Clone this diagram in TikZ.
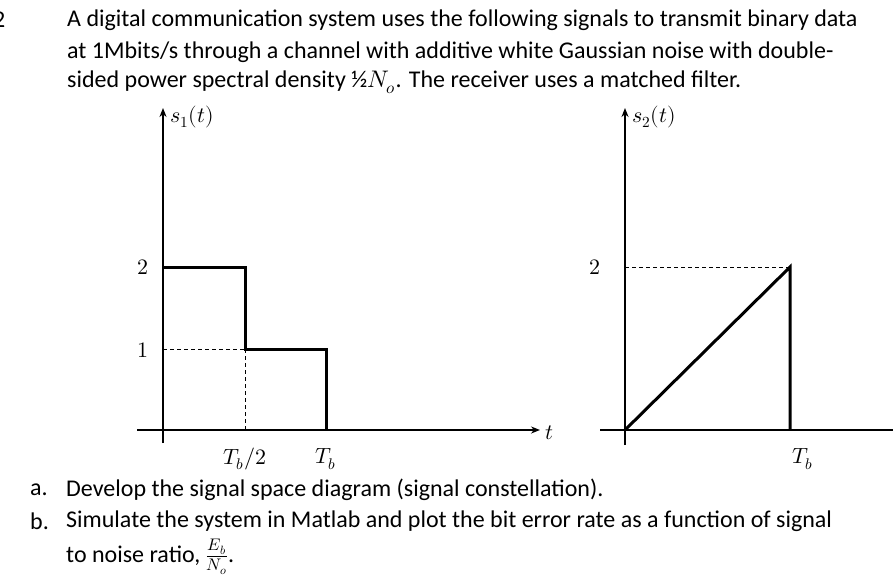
\documentclass[tikz,border=0pt]{standalone}
\usepackage{fontspec}
\setmainfont{Carlito}
\usepackage{unicode-math}
\setmathfont{Latin Modern Math}
\usetikzlibrary{arrows.meta}
\begin{document}
\begin{tikzpicture}[x=1pt,y=-1pt,
  txt/.style={anchor=west,inner sep=0pt,font=\fontsize{24}{28}\selectfont},
  lbl/.style={inner sep=0pt,font=\fontsize{22}{24}\selectfont},
  axis/.style={line width=1.6pt},
  sig/.style={line width=3pt},
  guide/.style={dashed,line width=0.8pt,dash pattern=on 4pt off 3pt}]
\useasboundingbox (0,0) rectangle (893,577);
\clip (0,0) rectangle (893,577);
\node[txt] (q) at (-7,20) {2};
\node[txt] (l1) at (67,20) {A digital communication system uses the following signals to transmit binary data};
\node[txt] (l2) at (67,52) {at 1Mbits/s through a channel with additive white Gaussian noise with double-};
\node[txt] (l3) at (67,82) {sided power spectral density ½$N_o$. The receiver uses a matched filter.};
% left plot
\coordinate (ay1) at (163,443);
\coordinate (ay2) at (163,108);
\coordinate (ax1) at (137,430);
\coordinate (ax2) at (540,430);
\draw[axis,-{Stealth[length=9pt,width=7pt]}] (ay1) -- (ay2);
\draw[axis,-{Stealth[length=9pt,width=7pt]}] (ax1) -- (ax2);
\node[lbl,anchor=west] (tl) at (545,433) {$t$};
\node[lbl,anchor=west] (s1l) at (170,117) {$s_1(t)$};
\coordinate (a) at (163,267);
\coordinate (b) at (245,267);
\coordinate (c) at (245,349);
\coordinate (d) at (326,349);
\coordinate (e) at (326,430);
\coordinate (f) at (163,349);
\coordinate (g) at (245,430);
\draw[sig] (a) -- (b) -- (c) -- (d) -- (e);
\draw[guide] (f) -- (c);
\draw[guide] (c) -- (g);
\node[lbl] (n2) at (143,267) {$2$};
\node[lbl] (n1) at (143,350) {$1$};
\node[lbl] (tb2) at (245,459) {$T_b/2$};
\node[lbl] (tb) at (326,459) {$T_b$};
% right plot
\coordinate (by1) at (625,445);
\coordinate (by2) at (625,108);
\coordinate (bx1) at (600,430);
\coordinate (bx2) at (900,430);
\draw[axis,-{Stealth[length=9pt,width=7pt]}] (by1) -- (by2);
\draw[axis] (bx1) -- (bx2);
\node[lbl,anchor=west] (s2l) at (632,117) {$s_2(t)$};
\coordinate (o) at (625,430);
\coordinate (p) at (790,267);
\coordinate (r) at (790,430);
\coordinate (h) at (625,267);
\draw[sig] (o) -- (p) -- (r);
\draw[guide] (h) -- (p);
\node[lbl] (m2) at (595,267) {$2$};
\node[lbl] (tb3) at (803,459) {$T_b$};
% bottom text
\node[txt] (la) at (30,490) {a.};
\node[txt] (ta) at (66,490) {Develop the signal space diagram (signal constellation).};
\node[txt] (lb) at (30,521) {b.};
\node[txt] (tbb) at (66,521) {Simulate the system in Matlab and plot the bit error rate as a function of signal};
\node[txt] (tc) at (66,557) {to noise ratio, $\frac{E_b}{N_o}$.};
\end{tikzpicture}
\end{document}
